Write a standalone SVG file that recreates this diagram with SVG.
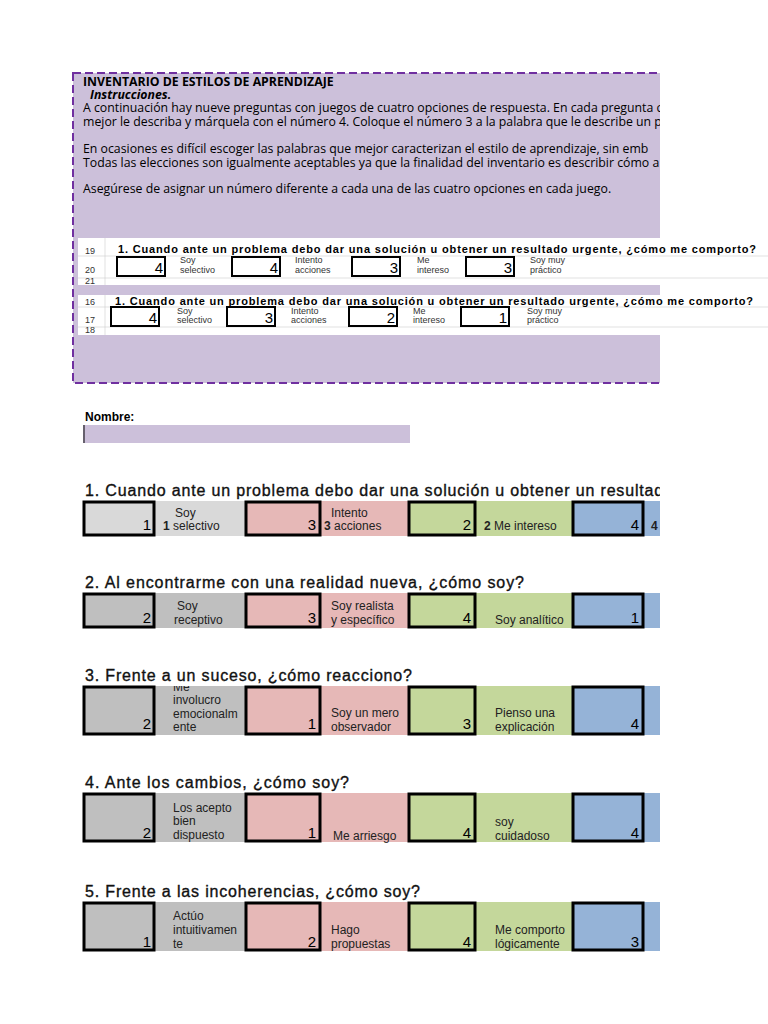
<svg xmlns="http://www.w3.org/2000/svg" width="768" height="1024" viewBox="0 0 768 1024">
<style>
.t{font-family:"Open Sans","DejaVu Sans",sans-serif;font-size:12.3px;fill:#000}
.q{font-family:"Liberation Sans",Arial,sans-serif;font-size:16px;fill:#111;stroke:#111;stroke-width:0.35}
.l{font-family:"Liberation Sans",Arial,sans-serif;font-size:12px;fill:#222}
.n{font-family:"Liberation Sans",Arial,sans-serif;font-size:15px;fill:#000;text-anchor:end}
.s{font-family:"Liberation Sans",Arial,sans-serif;font-size:9px;fill:#333}
.sq{font-family:"Liberation Sans",Arial,sans-serif;font-size:11px;font-weight:bold;fill:#000}
.b{stroke:#000;stroke-width:3}
.sb{fill:#fff;stroke:#000;stroke-width:2}
.g{stroke:#ccc;stroke-width:0.6}
</style>
<defs>
<clipPath id="cl"><rect x="0" y="0" width="660" height="1024"/></clipPath>
<clipPath id="c3"><rect x="154" y="686" width="91" height="49"/></clipPath>
</defs>
<rect width="768" height="1024" fill="#fff"/>
<g id="instructions" clip-path="url(#cl)">
<rect x="73" y="73" width="600" height="310" fill="#ccc0da" stroke="#7030a0" stroke-width="2" stroke-dasharray="8,4"/>
<text class="t" x="83" y="86" font-weight="bold" font-size="11.5">INVENTARIO DE ESTILOS DE APRENDIZAJE</text>
<text class="t" x="90" y="99" font-weight="bold" font-style="italic" font-size="11.5">Instrucciones.</text>
<text class="t" x="83" y="112">A continuación hay nueve preguntas con juegos de cuatro opciones de respuesta. En cada pregunta c</text>
<text class="t" x="83" y="126">mejor le describa y márquela con el número 4. Coloque el número 3 a la palabra que le describe un p</text>
<text class="t" x="83" y="153">En ocasiones es difícil escoger las palabras que mejor caracterizan el estilo de aprendizaje, sin emb</text>
<text class="t" x="83" y="167">Todas las elecciones son igualmente aceptables ya que la finalidad del inventario es describir cómo a</text>
<text class="t" x="83" y="193">Asegúrese de asignar un número diferente a cada una  de las cuatro opciones en cada juego.</text>
</g>
<g id="example1">
<rect x="78" y="238" width="690" height="47" fill="#fff"/>
<line class="g" x1="78" y1="256" x2="768" y2="256"/><line class="g" x1="78" y1="278" x2="768" y2="278"/>
<line class="g" x1="105" y1="238" x2="105" y2="285"/>
<text class="s" x="85" y="254">19</text><text class="s" x="85" y="273">20</text><text class="s" x="85" y="284">21</text>
<text class="sq" x="118" y="253" textLength="638">1. Cuando ante un problema debo dar una solución u obtener un resultado urgente, ¿cómo me comporto?</text>
<rect class="sb" x="117" y="257" width="48" height="19"/><text class="n" x="163" y="273" font-size="11">4</text>
<text class="s" x="180" y="263">Soy</text><text class="s" x="180" y="273">selectivo</text>
<rect class="sb" x="232" y="257" width="48" height="19"/><text class="n" x="278" y="273" font-size="11">4</text>
<text class="s" x="295" y="263">Intento</text><text class="s" x="295" y="273">acciones</text>
<rect class="sb" x="352" y="257" width="48" height="19"/><text class="n" x="398" y="273" font-size="11">3</text>
<text class="s" x="417" y="263">Me</text><text class="s" x="417" y="273">intereso</text>
<rect class="sb" x="466" y="257" width="48" height="19"/><text class="n" x="512" y="273" font-size="11">3</text>
<text class="s" x="530" y="263">Soy muy</text><text class="s" x="530" y="273">práctico</text>
</g>
<g id="example2">
<rect x="78" y="295" width="690" height="40" fill="#fff"/>
<line class="g" x1="78" y1="307" x2="768" y2="307"/><line class="g" x1="78" y1="327" x2="768" y2="327"/>
<line class="g" x1="105" y1="295" x2="105" y2="335"/>
<text class="s" x="85" y="305">16</text><text class="s" x="85" y="323">17</text><text class="s" x="85" y="333">18</text>
<text class="sq" x="115" y="305" textLength="638">1. Cuando ante un problema debo dar una solución u obtener un resultado urgente, ¿cómo me comporto?</text>
<rect class="sb" x="111" y="307" width="48" height="19"/><text class="n" x="157" y="323" font-size="11">4</text>
<text class="s" x="177" y="314">Soy</text><text class="s" x="177" y="323">selectivo</text>
<rect class="sb" x="227" y="307" width="48" height="19"/><text class="n" x="273" y="323" font-size="11">3</text>
<text class="s" x="291" y="314">Intento</text><text class="s" x="291" y="323">acciones</text>
<rect class="sb" x="349" y="307" width="48" height="19"/><text class="n" x="395" y="323" font-size="11">2</text>
<text class="s" x="413" y="314">Me</text><text class="s" x="413" y="323">intereso</text>
<rect class="sb" x="461" y="307" width="48" height="19"/><text class="n" x="507" y="323" font-size="11">1</text>
<text class="s" x="527" y="314">Soy muy</text><text class="s" x="527" y="323">práctico</text>
</g>
<g id="nombre">
<text x="85" y="421" font-family="Liberation Sans,Arial,sans-serif" font-size="12" font-weight="bold">Nombre:</text>
<rect x="83" y="425" width="327" height="18" fill="#ccc0da"/>
<line x1="84" y1="425" x2="84" y2="443" stroke="#000"/>
</g>
<g id="q1">
<text class="q" x="85" y="496" clip-path="url(#cl)" textLength="588">1. Cuando ante un problema debo dar una solución u obtener un resultado</text>
<rect x="154" y="501" width="91" height="35" fill="#d9d9d9"/><rect x="320" y="501" width="88" height="35" fill="#e6b8b7"/><rect x="475" y="501" width="97" height="35" fill="#c4d79b"/><rect x="643" y="501" width="17" height="35" fill="#95b3d7"/>
<rect class="b" x="84" y="502" width="70" height="33" fill="#d9d9d9"/><rect class="b" x="246" y="502" width="74" height="33" fill="#e6b8b7"/><rect class="b" x="409" y="502" width="66" height="33" fill="#c4d79b"/><rect class="b" x="573" y="502" width="70" height="33" fill="#95b3d7"/>
<text class="n" x="151" y="530">1</text><text class="n" x="316" y="530">3</text><text class="n" x="471" y="530">2</text><text class="n" x="639" y="530">4</text>
<text class="l" x="175" y="517">Soy</text><text class="l" x="163" y="530"><tspan font-weight="bold">1</tspan> selectivo</text>
<text class="l" x="331" y="517">Intento</text><text class="l" x="324" y="530"><tspan font-weight="bold">3</tspan> acciones</text>
<text class="l" x="484" y="530"><tspan font-weight="bold">2</tspan> Me intereso</text>
<text class="l" x="651" y="530" font-weight="bold">4</text>
</g>
<g id="q2">
<text class="q" x="85" y="588" textLength="439">2. Al encontrarme con una realidad nueva, ¿cómo soy?</text>
<rect x="154" y="593" width="91" height="35" fill="#bfbfbf"/><rect x="320" y="593" width="88" height="35" fill="#e6b8b7"/><rect x="475" y="593" width="97" height="35" fill="#c4d79b"/><rect x="643" y="593" width="17" height="35" fill="#95b3d7"/>
<rect class="b" x="84" y="594" width="70" height="33" fill="#bfbfbf"/><rect class="b" x="246" y="594" width="74" height="33" fill="#e6b8b7"/><rect class="b" x="409" y="594" width="66" height="33" fill="#c4d79b"/><rect class="b" x="573" y="594" width="70" height="33" fill="#95b3d7"/>
<text class="n" x="151" y="623">2</text><text class="n" x="316" y="623">3</text><text class="n" x="471" y="623">4</text><text class="n" x="639" y="623">1</text>
<text class="l" x="177" y="610">Soy</text><text class="l" x="174" y="624">receptivo</text>
<text class="l" x="331" y="610">Soy realista</text><text class="l" x="331" y="624">y específico</text>
<text class="l" x="495" y="624">Soy analítico</text>
</g>
<g id="q3">
<text class="q" x="85" y="681" textLength="327">3. Frente a un suceso, ¿cómo reacciono?</text>
<rect x="154" y="686" width="91" height="49" fill="#bfbfbf"/><rect x="320" y="686" width="88" height="49" fill="#e6b8b7"/><rect x="475" y="686" width="97" height="49" fill="#c4d79b"/><rect x="643" y="686" width="17" height="49" fill="#95b3d7"/>
<rect class="b" x="84" y="687" width="70" height="47" fill="#bfbfbf"/><rect class="b" x="246" y="687" width="74" height="47" fill="#e6b8b7"/><rect class="b" x="409" y="687" width="66" height="47" fill="#c4d79b"/><rect class="b" x="573" y="687" width="70" height="47" fill="#95b3d7"/>
<text class="n" x="151" y="729">2</text><text class="n" x="316" y="729">1</text><text class="n" x="471" y="729">3</text><text class="n" x="639" y="729">4</text>
<g clip-path="url(#c3)"><text class="l" x="173" y="691">Me</text><text class="l" x="173" y="704">involucro</text><text class="l" x="173" y="718">emocionalm</text><text class="l" x="173" y="731">ente</text></g>
<text class="l" x="331" y="717">Soy un mero</text><text class="l" x="331" y="731">observador</text>
<text class="l" x="495" y="717">Pienso una</text><text class="l" x="495" y="731">explicación</text>
</g>
<g id="q4">
<text class="q" x="85" y="788" textLength="264">4. Ante los cambios, ¿cómo soy?</text>
<rect x="154" y="793" width="91" height="49" fill="#bfbfbf"/><rect x="320" y="793" width="88" height="49" fill="#e6b8b7"/><rect x="475" y="793" width="97" height="49" fill="#c4d79b"/><rect x="643" y="793" width="17" height="49" fill="#95b3d7"/>
<rect class="b" x="84" y="794" width="70" height="47" fill="#bfbfbf"/><rect class="b" x="246" y="794" width="74" height="47" fill="#e6b8b7"/><rect class="b" x="409" y="794" width="66" height="47" fill="#c4d79b"/><rect class="b" x="573" y="794" width="70" height="47" fill="#95b3d7"/>
<text class="n" x="151" y="838">2</text><text class="n" x="316" y="838">1</text><text class="n" x="471" y="838">4</text><text class="n" x="639" y="838">4</text>
<text class="l" x="173" y="812">Los acepto</text><text class="l" x="173" y="825">bien</text><text class="l" x="173" y="839">dispuesto</text>
<text class="l" x="333" y="840">Me arriesgo</text>
<text class="l" x="495" y="826">soy</text><text class="l" x="495" y="840">cuidadoso</text>
</g>
<g id="q5">
<text class="q" x="85" y="897" textLength="335">5. Frente a las incoherencias, ¿cómo soy?</text>
<rect x="154" y="902" width="91" height="49" fill="#bfbfbf"/><rect x="320" y="902" width="88" height="49" fill="#e6b8b7"/><rect x="475" y="902" width="97" height="49" fill="#c4d79b"/><rect x="643" y="902" width="17" height="49" fill="#95b3d7"/>
<rect class="b" x="84" y="903" width="70" height="47" fill="#bfbfbf"/><rect class="b" x="246" y="903" width="74" height="47" fill="#e6b8b7"/><rect class="b" x="409" y="903" width="66" height="47" fill="#c4d79b"/><rect class="b" x="573" y="903" width="70" height="47" fill="#95b3d7"/>
<text class="n" x="151" y="947">1</text><text class="n" x="316" y="947">2</text><text class="n" x="471" y="947">4</text><text class="n" x="639" y="947">3</text>
<text class="l" x="173" y="920">Actúo</text><text class="l" x="173" y="934">intuitivamen</text><text class="l" x="173" y="948">te</text>
<text class="l" x="331" y="934">Hago</text><text class="l" x="331" y="948">propuestas</text>
<text class="l" x="495" y="934">Me comporto</text><text class="l" x="495" y="948">lógicamente</text>
</g>
</svg>
